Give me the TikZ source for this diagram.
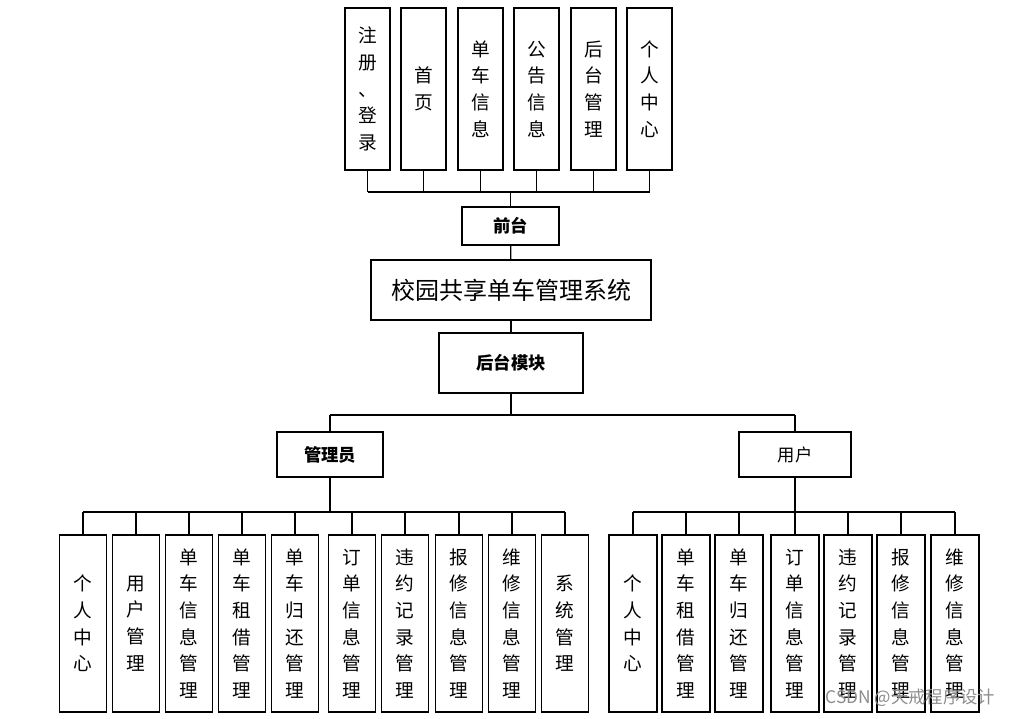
\documentclass[tikz,border=0pt]{standalone}
\usepackage{fontspec}
\setmainfont{Noto Sans CJK SC}
\begin{document}
\begin{tikzpicture}[x=0.75pt,y=-0.75pt,
 bx/.style={draw,line width=1pt,inner sep=0pt,align=center,font=\fontsize{14}{20}\selectfont},
 ln/.style={line width=1pt}]
\fill[white] (0,0) rectangle (1013,718);
\useasboundingbox (0,0) rectangle (1013,718);
\newcommand\vb[5]{\node[bx,minimum width=#3*0.75pt,minimum height=#4*0.75pt] (#1) at (#2) {#5};}
% top
\vb{t1}{367.5,89}{45}{162}{注\\册\\、\\登\\录}
\vb{t2}{423.5,89}{45}{162}{首\\页}
\vb{t3}{480.5,89}{45}{162}{单\\车\\信\\息}
\vb{t4}{536.5,89}{45}{162}{公\\告\\信\\息}
\vb{t5}{593.5,89}{45}{162}{后\\台\\管\\理}
\vb{t6}{649.5,89}{45}{162}{个\\人\\中\\心}
\node[bx,minimum width=97*0.75pt,minimum height=38*0.75pt,font=\bfseries\fontsize{13}{16}\selectfont] (qt) at (510.5,226) {前台};
\node[bx,minimum width=280*0.75pt,minimum height=60*0.75pt,font=\fontsize{18}{22}\selectfont] (main) at (511,290) {校园共享单车管理系统};
\node[bx,minimum width=144*0.75pt,minimum height=60*0.75pt,font=\bfseries\fontsize{13}{16}\selectfont] (ht) at (511,363) {后台模块};
\node[bx,minimum width=106*0.75pt,minimum height=45*0.75pt,font=\bfseries\fontsize{13}{16}\selectfont] (gl) at (330,454.5) {管理员};
\node[bx,minimum width=112*0.75pt,minimum height=45*0.75pt,font=\fontsize{13}{16}\selectfont] (yh) at (795,454.5) {用户};
\coordinate (tb) at (0,192);
\foreach \n in {t1,t2,t3,t4,t5,t6} \draw[ln] (\n.south) -- (\n.south |- tb);
\draw[ln] (t1.south |- tb) -- (t6.south |- tb);
\draw[ln] (qt.north) -- (qt.north |- tb);
\draw[ln] (qt) -- (main);
\draw[ln] (main) -- (ht);
\draw[ln] (ht.south) -- (511,415) coordinate (hb);
\draw[ln] (gl.north |- hb) -- (yh.north |- hb);
\draw[ln] (gl.north |- hb) -- (gl.north);
\draw[ln] (yh.north |- hb) -- (yh.north);
% admin
\coordinate (ab) at (0,512);
\foreach \i/\x/\t in {1/83/个\\人\\中\\心,2/136/用\\户\\管\\理,3/189/单\\车\\信\\息\\管\\理,4/242/单\\车\\租\\借\\管\\理,5/295/单\\车\\归\\还\\管\\理,6/352/订\\单\\信\\息\\管\\理,7/405/违\\约\\记\\录\\管\\理,8/459/报\\修\\信\\息\\管\\理,9/512/维\\修\\信\\息\\管\\理,10/565/系\\统\\管\\理}{
 \node[bx,minimum width=47*0.75pt,minimum height=177*0.75pt,font=\fontsize{14}{20}\selectfont] (a\i) at (\x,623.5) {\t};
 \draw[ln] (a\i.north) -- (a\i.north |- ab);}
\draw[ln] (a1.north |- ab) -- (a10.north |- ab);
\draw[ln] (gl.south) -- (gl.south |- ab);
% user
\foreach \i/\x/\t in {1/633/个\\人\\中\\心,2/686/单\\车\\租\\借\\管\\理,3/739/单\\车\\归\\还\\管\\理,4/795/订\\单\\信\\息\\管\\理,5/848/违\\约\\记\\录\\管\\理,6/901/报\\修\\信\\息\\管\\理,7/955/维\\修\\信\\息\\管\\理}{
 \node[bx,minimum width=48*0.75pt,minimum height=177*0.75pt,font=\fontsize{14}{20}\selectfont] (u\i) at (\x,623.5) {\t};
 \draw[ln] (u\i.north) -- (u\i.north |- ab);}
\draw[ln] (u1.north |- ab) -- (u7.north |- ab);
\draw[ln] (yh.south) -- (yh.south |- ab);
\node[text=black!45,font=\fontsize{13}{16}\selectfont,anchor=east] (wm) at (1000,698) {CSDN @天戒程序设计};
\end{tikzpicture}
\end{document}
